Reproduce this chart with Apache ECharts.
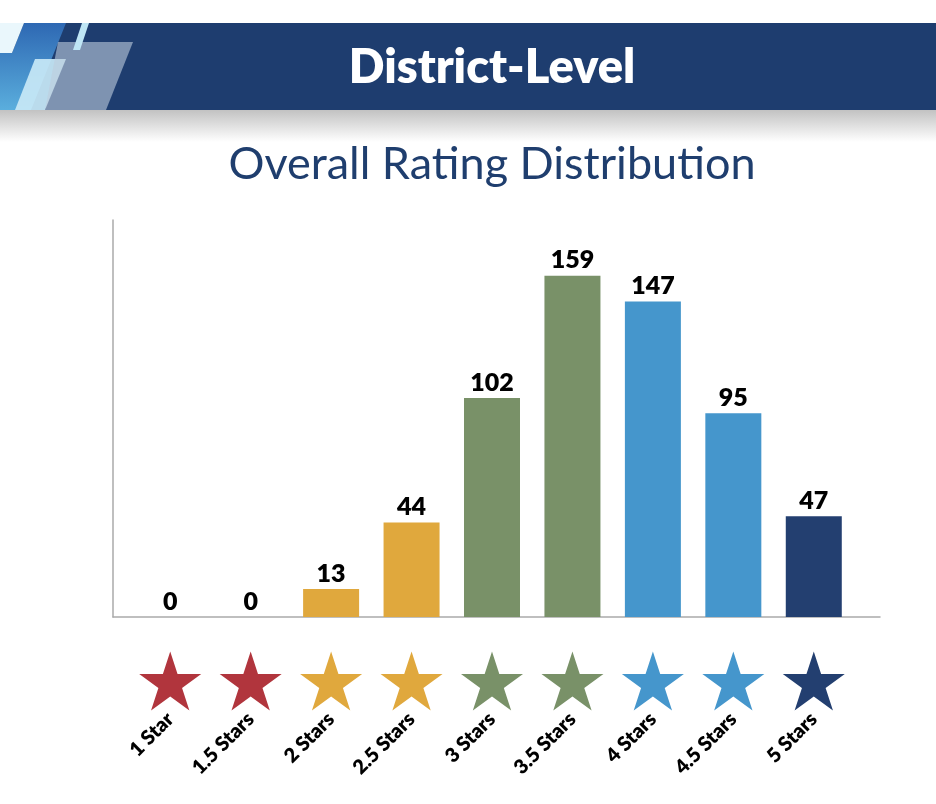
<!DOCTYPE html>
<html>
<head>
<meta charset="utf-8">
<script src="https://cdn.jsdelivr.net/npm/echarts@6/dist/echarts.min.js"></script>
<style>
	html, body { margin: 0; padding: 0; background: #fff; }
	#chart { width: 936px; height: 804px; }
</style>
</head>
<body>
<div id="chart"></div>
<script>
const categories = ["1 Star", "1.5 Stars", "2 Stars", "2.5 Stars", "3 Stars", "3.5 Stars", "4 Stars", "4.5 Stars", "5 Stars"];
const counts = [0, 0, 13, 44, 102, 159, 147, 95, 47];
const colors = ["#B1353D", "#B1353D", "#E0A83D", "#E0A83D", "#799168", "#799168", "#4596CC", "#4596CC", "#233F70"];

const starPath = "path://M100 0 L122.45 69.1 L195.1 69.1 L136.3 111.8 L158.8 180.9 L100 138.2 L41.2 180.9 L63.7 111.8 L4.9 69.1 L77.55 69.1 Z";
const font = "Lato, 'Open Sans', sans-serif";

let myChart = echarts.init(document.getElementById("chart"));
let option = {
	backgroundColor: "#fff",
	animation: false,
	graphic: [
		// header band + shadow
		{
			type: "rect", shape: { x: 0, y: 110, width: 936, height: 32 },
			style: {
				fill: new echarts.graphic.LinearGradient(0, 0, 0, 1, [
					{ offset: 0, color: "#c2c2c2" },
					{ offset: 1, color: "#ffffff" }
				])
			}
		},
		{ type: "rect", shape: { x: 0, y: 23, width: 936, height: 87 }, style: { fill: "#1E3D6F" } },
		{
			type: "polygon", shape: { points: [[24, 23], [66, 23], [31, 110], [0, 110], [0, 53], [12, 53]] },
			style: {
				fill: new echarts.graphic.LinearGradient(0, 0, 0, 1, [
					{ offset: 0, color: "#2e68b3" },
					{ offset: 1, color: "#5aaedd" }
				])
			}
		},
		{
			type: "polygon", shape: { points: [[0, 23], [24, 23], [12, 53], [0, 53]] },
			style: { fill: "#eaf7fc" }
		},
		{
			type: "polygon", shape: { points: [[35, 59], [66, 59], [45, 110], [15, 110]] },
			style: { fill: "rgba(200,232,246,0.92)" }
		},
		{
			type: "polygon", shape: { points: [[58, 42], [133, 42], [106, 110], [45, 110]] },
			style: { fill: "rgba(190,205,222,0.6)" }
		},
		{
			type: "polygon", shape: { points: [[82, 23], [89, 23], [80, 50], [73, 50]] },
			style: { fill: "#bfe6f5" }
		},
		{
			type: "text", x: 492, y: 68,
			style: {
				text: "District-Level", fill: "#fff", font: "800 47px " + font,
				textAlign: "center", textVerticalAlign: "middle"
			}
		},
		{
			type: "text", x: 492, y: 164,
			style: {
				text: "Overall Rating Distribution", fill: "#1F3E6E", font: "45px " + font,
				textAlign: "center", textVerticalAlign: "middle"
			}
		}
	],
	grid: [
		{ left: 130, right: 82, top: 220, bottom: 187 },
		{ left: 113, right: 56, top: 220, bottom: 187 },
		{ left: 130, right: 82, top: 651, height: 60 }
	],
	xAxis: [
		{
			gridIndex: 0, type: "category", data: categories,
			axisLine: { show: false }, axisTick: { show: false }, axisLabel: { show: false }
		},
		{
			gridIndex: 1, type: "value", min: 0, max: 1,
			axisLine: { show: true, onZero: false, lineStyle: { color: "#aaaaaa", width: 1.5 } },
			axisTick: { show: false }, axisLabel: { show: false }, splitLine: { show: false }
		},
		{
			gridIndex: 2, type: "category", data: categories,
			axisLine: { show: false }, axisTick: { show: false },
			axisLabel: {
				rotate: 45, margin: 5, interval: 0,
				color: "#000", fontFamily: font, fontWeight: 800, fontSize: 20
			}
		}
	],
	yAxis: [
		{
			gridIndex: 0, type: "value", min: 0, max: 185,
			axisLine: { show: false }, axisTick: { show: false }, axisLabel: { show: false }, splitLine: { show: false }
		},
		{
			gridIndex: 1, type: "value", min: 0, max: 1,
			axisLine: { show: true, onZero: false, lineStyle: { color: "#aaaaaa", width: 1.5 } },
			axisTick: { show: false }, axisLabel: { show: false }, splitLine: { show: false }
		},
		{
			gridIndex: 2, type: "value", min: -1, max: 1, show: false
		}
	],
	series: [
		{
			name: "Count",
			type: "bar",
			xAxisIndex: 0, yAxisIndex: 0,
			barWidth: 56,
			data: counts.map((v, i) => ({ value: v, itemStyle: { color: colors[i] } })),
			label: {
				show: true, position: "top", distance: 3,
				color: "#000", fontFamily: font, fontWeight: 800, fontSize: 25
			}
		},
		{
			name: "Stars",
			type: "scatter",
			xAxisIndex: 2, yAxisIndex: 2,
			symbol: starPath,
			symbolSize: [62, 59],
			silent: true,
			itemStyle: { opacity: 1 },
			data: categories.map((c, i) => ({ value: [c, 0], itemStyle: { color: colors[i], opacity: 1 } }))
		}
	]
};
myChart.setOption(option);
</script>
</body>
</html>
